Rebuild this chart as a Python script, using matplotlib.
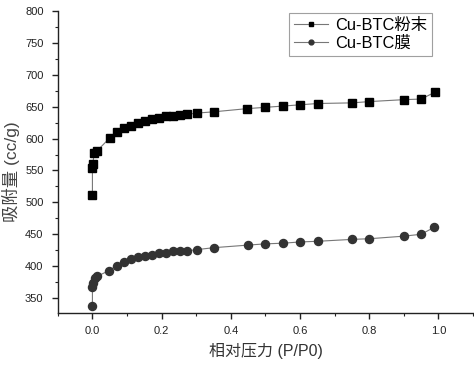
import matplotlib
matplotlib.use("Agg")
import matplotlib.pyplot as plt
from matplotlib.ticker import MultipleLocator

plt.rcParams['font.family'] = ['Liberation Sans', 'Noto Sans CJK SC', 'DejaVu Sans']

powder_x = [0.0, 0.0, 0.001, 0.005, 0.012, 0.05, 0.07, 0.091, 0.111, 0.132, 0.153,
            0.173, 0.193, 0.214, 0.234, 0.253, 0.272, 0.303, 0.351, 0.448, 0.5,
            0.551, 0.601, 0.651, 0.751, 0.80, 0.899, 0.95, 0.991]
powder_y = [511, 554, 560, 577, 580, 601, 610, 616, 620, 624, 627, 630, 633, 635,
            636, 637, 638, 640, 642, 647, 649, 651, 653, 655, 656, 658, 661, 662, 673]

film_x = [0.0, 0.0, 0.002, 0.006, 0.013, 0.048, 0.07, 0.091, 0.111, 0.132, 0.153,
          0.173, 0.193, 0.214, 0.234, 0.253, 0.272, 0.303, 0.351, 0.449, 0.5,
          0.551, 0.601, 0.651, 0.751, 0.80, 0.899, 0.95, 0.988]
film_y = [338, 368, 373, 381, 384, 393, 401, 407, 411, 414, 416, 418, 420, 421,
          423, 424, 424, 426, 429, 433, 435, 436, 438, 439, 442, 443, 447, 450, 461]

labels = ['Cu-BTC粉末', 'Cu-BTC膜']
xlabel = '相对压力 (P/P0)'
ylabel = '吸附量 (cc/g)'
xticks = [0.0, 0.2, 0.4, 0.6, 0.8, 1.0]
yticks = [350, 400, 450, 500, 550, 600, 650, 700, 750, 800]

fig = plt.figure(figsize=(4.74, 3.67), dpi=100)
ax = fig.add_axes([0.122, 0.147, 0.876, 0.823])

ax.plot(powder_x, powder_y, color='#777777', lw=0.8, marker='s', ms=5.2,
        mfc='black', mec='black', label=labels[0])
ax.plot(film_x, film_y, color='#777777', lw=0.8, marker='o', ms=5.8,
        mfc='#333333', mec='#333333', label=labels[1])

ax.set_xlim(-0.1, 1.1)
ax.set_ylim(326.5, 800)
ax.set_xticks(xticks)
ax.set_xticklabels([f'{v:.1f}' for v in xticks])
ax.set_yticks(yticks)
ax.xaxis.set_minor_locator(MultipleLocator(0.1))
ax.yaxis.set_minor_locator(MultipleLocator(25))

for s in ['top', 'right']:
    ax.spines[s].set_visible(False)
for s in ['left', 'bottom']:
    ax.spines[s].set_linewidth(1.0)
    ax.spines[s].set_color('#222222')

ax.tick_params(which='major', direction='out', length=4.3, width=1.0,
               labelsize=8, colors='#222222')
ax.tick_params(axis='y', which='major', pad=6)
ax.tick_params(axis='x', which='major', pad=5)
ax.tick_params(which='minor', direction='out', length=2.5, width=0.8, colors='#222222')

ax.set_xlabel(xlabel, fontsize=11.5, color='#333333', labelpad=5)
ax.set_ylabel(ylabel, fontsize=12.5, color='#444444')
ax.yaxis.set_label_coords(-0.092, 0.467)

leg = ax.legend(loc='upper left', bbox_to_anchor=(0.557, 0.993), fontsize=11.8,
                frameon=True, fancybox=False, edgecolor='#888888',
                handlelength=2.1, handletextpad=0.4, labelspacing=0.15,
                borderpad=0.3, markerscale=0.6, borderaxespad=0)
leg.get_frame().set_linewidth(0.8)

fig.savefig('out.png', dpi=100)
